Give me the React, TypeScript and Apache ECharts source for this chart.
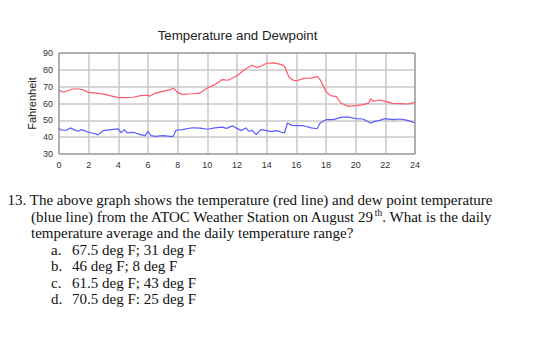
import React, { useEffect, useRef } from "react";
import * as echarts from "echarts";

const chartTitle = "Temperature and Dewpoint";
const yAxisName = "Fahrenheit";
const xTicks = [0, 2, 4, 6, 8, 10, 12, 14, 16, 18, 20, 22, 24];
const yTicks = [30, 40, 50, 60, 70, 80, 90];

const tempHours = [0, 0.3, 0.6, 0.9, 1.3, 1.6, 2, 2.5, 3, 3.5, 4, 4.5, 5, 5.5, 6, 6.1, 6.5, 7, 7.5, 7.7, 8, 8.3, 9, 9.5, 10, 10.5, 11, 11.4, 12, 12.5, 13, 13.3, 13.6, 14, 14.5, 15, 15.2, 15.5, 15.8, 16, 16.5, 17, 17.4, 17.6, 18, 18.3, 18.7, 19, 19.5, 20, 20.5, 20.9, 21, 21.2, 21.6, 22, 22.5, 23, 23.5, 24];
const tempValues = [67.8, 66.8, 67.6, 68.6, 68.6, 68.2, 66.6, 66.2, 65.6, 64.5, 63.5, 63.5, 63.7, 64.7, 64.9, 64.3, 66.2, 67.2, 68.2, 69.2, 66.6, 65.4, 65.8, 66.2, 69.2, 71.2, 74.2, 73.8, 76.5, 80.1, 82.7, 81.5, 82.1, 83.9, 84.1, 83.1, 82.1, 75.7, 73.8, 73.4, 74.9, 75.1, 76.1, 74.2, 67.2, 64.7, 64.1, 60.3, 58.3, 58.7, 59.3, 60.2, 62.9, 61.3, 62.1, 61.3, 60.1, 59.9, 59.7, 60.7];

const dewHours = [0, 0.2, 0.5, 0.75, 1, 1.3, 1.5, 2, 2.5, 2.6, 3, 3.5, 4, 4.2, 4.4, 4.6, 5, 5.5, 5.8, 6, 6.2, 6.5, 7, 7.5, 7.7, 7.9, 8.3, 9, 9.5, 10, 10.5, 11, 11.3, 11.7, 12, 12.3, 12.6, 12.8, 13, 13.3, 13.6, 14, 14.3, 14.7, 15, 15.2, 15.4, 15.7, 16, 16.5, 17, 17.4, 17.6, 18, 18.5, 19, 19.5, 20, 20.5, 21, 21.3, 21.6, 22, 22.5, 23, 23.5, 24];
const dewValues = [45.2, 44.1, 44.1, 45.5, 44.5, 43.5, 44.5, 42.9, 41.9, 41.3, 43.9, 44.5, 44.9, 42.5, 44.5, 42.5, 42.9, 41.5, 40.9, 43.5, 40.9, 40.5, 40.9, 40.5, 40.5, 44.1, 44.5, 45.6, 45.4, 44.7, 45.5, 46.0, 45.2, 46.8, 45.2, 43.9, 45.5, 43.5, 44.1, 41.5, 44.5, 43.9, 43.3, 43.9, 42.9, 42.5, 48.4, 47.0, 46.8, 46.8, 45.5, 45.0, 48.4, 50.4, 50.4, 51.8, 52.0, 51.0, 50.8, 48.4, 49.4, 50.0, 51.0, 50.4, 50.8, 50.0, 48.4];

const questionLines = [
  "13. The above graph shows the temperature (red line) and dew point temperature",
  "(blue line) from the ATOC Weather Station on August 29{sup|th}. What is the daily",
  "temperature average and the daily temperature range?",
];
const optionLetters = ["a.", "b.", "c.", "d."];
const optionTexts = ["67.5 deg F; 31 deg F", "46 deg F; 8 deg F", "61.5 deg F; 43 deg F", "70.5 deg F: 25 deg F"];

export default function App() {
  const ref = useRef<HTMLDivElement>(null);
  useEffect(() => {
    const chart = echarts.init(ref.current!, null, { renderer: "svg" });
    const serif = "Liberation Serif";
    const qFont = 15;
    const graphic: any[] = [];
    const lineX = [7.5, 31, 31];
    const lineY = [200, 216.5, 233];
    questionLines.forEach((t, i) => {
      graphic.push({
        type: "text",
        x: lineX[i],
        y: lineY[i],
        style: {
          text: t,
          fontFamily: serif,
          fontSize: qFont,
          fill: "#111",
          verticalAlign: "middle",
          rich: {
            sup: { fontSize: 9.5, fontFamily: serif, fill: "#111", verticalAlign: "top", lineHeight: 17, padding: [0, 0, 7, 0] },
          },
        },
      });
    });
    optionLetters.forEach((l, i) => {
      const y = 249.5 + i * 16.5;
      graphic.push({
        type: "text", x: 51, y,
        style: { text: l, fontFamily: serif, fontSize: qFont, fill: "#111", verticalAlign: "middle" },
      });
      graphic.push({
        type: "text", x: 72, y,
        style: { text: optionTexts[i], fontFamily: serif, fontSize: qFont, fill: "#111", verticalAlign: "middle" },
      });
    });

    chart.setOption({
      animation: false,
      backgroundColor: "#fff",
      title: {
        text: chartTitle,
        left: 237.5,
        top: 29,
        textAlign: "center",
        padding: 0,
        textStyle: { fontFamily: "Liberation Sans", fontSize: 13.3, fontWeight: "normal", color: "#222" },
      },
      grid: { left: 59, top: 53, width: 356, height: 101, containLabel: false, show: false },
      xAxis: {
        type: "value",
        min: 0,
        max: 24,
        interval: 2,
        axisLine: { show: false },
        axisTick: { show: false },
        axisLabel: { fontFamily: "Liberation Sans", fontSize: 9, color: "#333", margin: 6 },
        splitLine: { show: true, lineStyle: { color: "#c8c8c8", width: 1.5 } },
      },
      yAxis: {
        type: "value",
        min: 30,
        max: 90,
        interval: 10,
        axisLine: { show: false },
        axisTick: { show: false },
        axisLabel: { fontFamily: "Liberation Sans", fontSize: 9, color: "#333", margin: 6 },
        splitLine: { show: true, lineStyle: { color: "#c8c8c8", width: 1.5 } },
      },
      graphic: [
        {
          type: "rect",
          shape: { x: 59, y: 53, width: 356, height: 101 },
          style: { fill: "none", stroke: "#8a8a8a", lineWidth: 1 },
          z: 10,
        },
        {
          type: "text",
          x: 32,
          y: 103.5,
          rotation: Math.PI / 2,
          style: {
            text: yAxisName,
            fontFamily: "Liberation Sans",
            fontSize: 11,
            fill: "#222",
            align: "center",
            verticalAlign: "middle",
          },
        },
        ...graphic,
      ],
      series: [
        {
          type: "line",
          data: tempHours.map((h, i) => [h, tempValues[i]]),
          showSymbol: false,
          lineStyle: { color: "#ff5a6a", width: 1.2 },
          itemStyle: { color: "#ff5a6a" },
          z: 5,
        },
        {
          type: "line",
          data: dewHours.map((h, i) => [h, dewValues[i]]),
          showSymbol: false,
          lineStyle: { color: "#5a5aff", width: 1.2 },
          itemStyle: { color: "#5a5aff" },
          z: 5,
        },
      ],
    });
    return () => chart.dispose();
  }, []);
  return <div ref={ref} style={{ position: "fixed", left: 0, top: 0, width: 540, height: 348 }} />;
}
